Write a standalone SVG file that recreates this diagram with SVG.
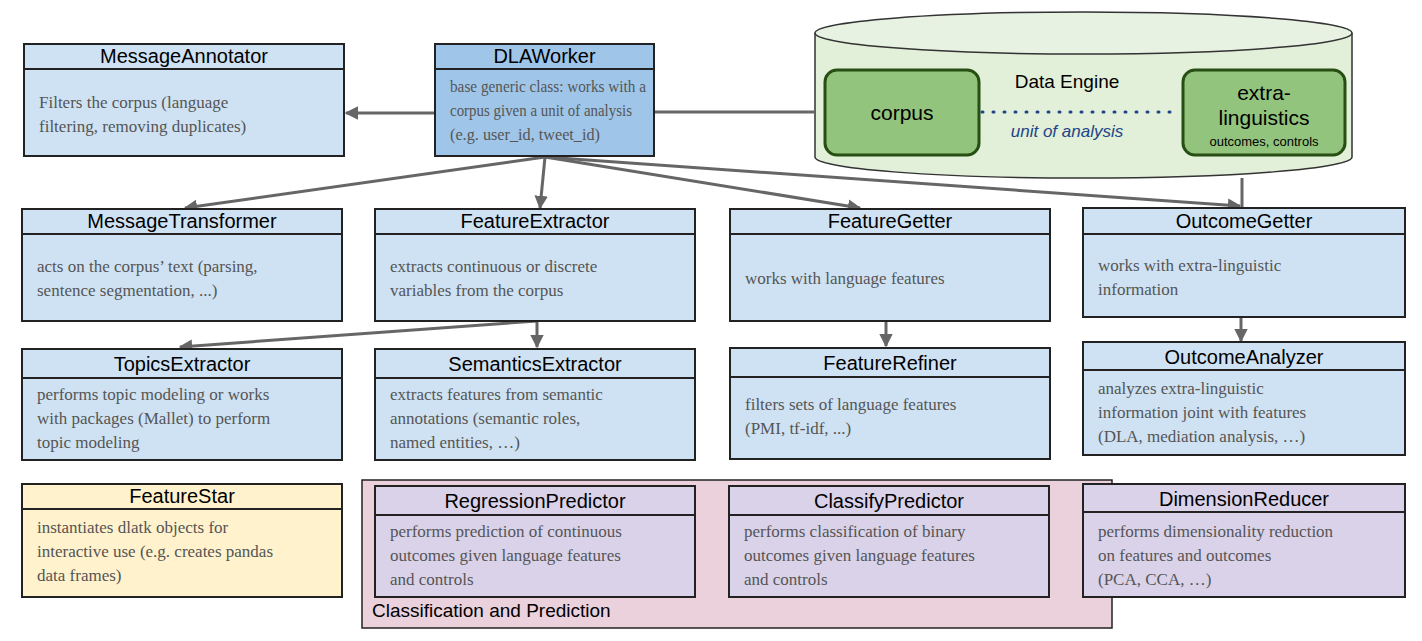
<svg xmlns="http://www.w3.org/2000/svg" width="1422" height="641" viewBox="0 0 1422 641">
<defs>
<marker id="ah" viewBox="0 0 10 10" refX="9" refY="5" markerWidth="4.5" markerHeight="4.5" orient="auto" markerUnits="strokeWidth"><path d="M0,0 L10,5 L0,10 z" fill="#666"/></marker>
<style>
.box{stroke:#222;stroke-width:2}
.blue{fill:#cfe2f3}.dblue{fill:#9fc5e8}.yel{fill:#fff2cc}.pur{fill:#d9d2e9}
.h{font-family:"Liberation Sans",Arial,sans-serif;font-size:20px;fill:#000;text-anchor:middle}
.b{font-family:"Liberation Serif","Times New Roman",serif;font-size:17px;fill:#555}
.c{stroke:#666;stroke-width:3;fill:none}
.g{font-family:"Liberation Sans",Arial,sans-serif;fill:#000;text-anchor:middle}
</style>
</defs>
<rect width="1422" height="641" fill="#fff"/>
<g id="classification-group">
<rect x="362" y="480" width="750" height="148" fill="#ead1dc" stroke="#222" stroke-width="1.5"/>
<text x="372" y="617" font-family="Liberation Sans,Arial,sans-serif" font-size="19">Classification and Prediction</text>
</g>
<g id="data-engine">
<path d="M815,33 L815,157 A268,21 0 0 0 1352,157 L1352,33" fill="#e2efd9" stroke="#333" stroke-width="1.5"/>
<ellipse cx="1083.5" cy="33" rx="268.5" ry="21" fill="#e8f2e2" stroke="#333" stroke-width="1.5"/>
<rect x="825" y="70" width="154" height="85" rx="12" fill="#93c47d" stroke="#274e13" stroke-width="3"/>
<rect x="1183" y="70" width="162" height="85" rx="12" fill="#93c47d" stroke="#274e13" stroke-width="3"/>
<text class="g" x="1067" y="88" font-size="19">Data Engine</text>
<text class="g" x="902" y="120" font-size="21">corpus</text>
<text class="g" x="1264" y="100" font-size="21">extra-</text>
<text class="g" x="1264" y="125" font-size="21">linguistics</text>
<text class="g" x="1264" y="146" font-size="13">outcomes, controls</text>
<line x1="982" y1="112" x2="1180" y2="112" stroke="#1c4587" stroke-width="3" stroke-dasharray="1,10" stroke-linecap="round"/>
<text class="g" x="1067" y="137" font-size="17" font-style="italic" style="fill:#1c4587">unit of analysis</text>
</g>
<g id="connectors">
<line class="c" x1="435" y1="113" x2="346" y2="113" marker-end="url(#ah)"/>
<line class="c" x1="654" y1="112" x2="815" y2="112"/>
<line class="c" x1="545" y1="157" x2="185" y2="208" marker-end="url(#ah)"/>
<line class="c" x1="545" y1="157" x2="540" y2="208" marker-end="url(#ah)"/>
<line class="c" x1="545" y1="157" x2="860" y2="208" marker-end="url(#ah)"/>
<line class="c" x1="545" y1="157" x2="1240" y2="206" marker-end="url(#ah)"/>
<line class="c" x1="1242" y1="178" x2="1242" y2="208"/>
<line class="c" x1="537" y1="321" x2="180" y2="347" marker-end="url(#ah)"/>
<line class="c" x1="537" y1="321" x2="537" y2="347" marker-end="url(#ah)"/>
<line class="c" x1="886" y1="321" x2="886" y2="346" marker-end="url(#ah)"/>
<line class="c" x1="1241" y1="317" x2="1241" y2="341" marker-end="url(#ah)"/>
</g>
<g id="MessageAnnotator"><rect class="box blue" x="24" y="44" width="320" height="112"/><line class="box" x1="24" y1="69" x2="344" y2="69"/><text class="h" x="184" y="63">MessageAnnotator</text><text class="b" x="39" y="108">Filters the corpus (language</text><text class="b" x="39" y="132">filtering, removing duplicates)</text></g>
<g id="DLAWorker"><rect class="box dblue" x="435" y="44" width="219" height="112"/><line class="box" x1="435" y1="69" x2="654" y2="69"/><text class="h" x="544.5" y="63">DLAWorker</text><text class="b" x="450" y="92" textLength="196" lengthAdjust="spacingAndGlyphs">base generic class: works with a</text><text class="b" x="450" y="116" textLength="182" lengthAdjust="spacingAndGlyphs">corpus given a unit of analysis</text><text class="b" x="450" y="140" textLength="150" lengthAdjust="spacingAndGlyphs">(e.g. user_id, tweet_id)</text></g>
<g id="MessageTransformer"><rect class="box blue" x="22" y="209" width="320" height="112"/><line class="box" x1="22" y1="234" x2="342" y2="234"/><text class="h" x="182" y="228">MessageTransformer</text><text class="b" x="37" y="272">acts on the corpus’ text (parsing,</text><text class="b" x="37" y="296">sentence segmentation, ...)</text></g>
<g id="FeatureExtractor"><rect class="box blue" x="375" y="209" width="320" height="112"/><line class="box" x1="375" y1="234" x2="695" y2="234"/><text class="h" x="535" y="228">FeatureExtractor</text><text class="b" x="390" y="272">extracts continuous or discrete</text><text class="b" x="390" y="296">variables from the corpus</text></g>
<g id="FeatureGetter"><rect class="box blue" x="730" y="209" width="320" height="112"/><line class="box" x1="730" y1="234" x2="1050" y2="234"/><text class="h" x="890" y="228">FeatureGetter</text><text class="b" x="745" y="284">works with language features</text></g>
<g id="OutcomeGetter"><rect class="box blue" x="1083" y="208" width="322" height="109"/><line class="box" x1="1083" y1="234" x2="1405" y2="234"/><text class="h" x="1244" y="228">OutcomeGetter</text><text class="b" x="1098" y="271">works with extra-linguistic</text><text class="b" x="1098" y="295">information</text></g>
<g id="TopicsExtractor"><rect class="box blue" x="22" y="349" width="320" height="111"/><line class="box" x1="22" y1="378" x2="342" y2="378"/><text class="h" x="182" y="371">TopicsExtractor</text><text class="b" x="37" y="400">performs topic modeling or works</text><text class="b" x="37" y="424">with packages (Mallet) to perform</text><text class="b" x="37" y="448">topic modeling</text></g>
<g id="SemanticsExtractor"><rect class="box blue" x="375" y="349" width="320" height="111"/><line class="box" x1="375" y1="378" x2="695" y2="378"/><text class="h" x="535" y="371">SemanticsExtractor</text><text class="b" x="390" y="400">extracts features from semantic</text><text class="b" x="390" y="424">annotations (semantic roles,</text><text class="b" x="390" y="448">named entities, …)</text></g>
<g id="FeatureRefiner"><rect class="box blue" x="730" y="348" width="320" height="111"/><line class="box" x1="730" y1="377" x2="1050" y2="377"/><text class="h" x="890" y="370">FeatureRefiner</text><text class="b" x="745" y="410">filters sets of language features</text><text class="b" x="745" y="434">(PMI, tf-idf, ...)</text></g>
<g id="OutcomeAnalyzer"><rect class="box blue" x="1083" y="342" width="322" height="113"/><line class="box" x1="1083" y1="370" x2="1405" y2="370"/><text class="h" x="1244" y="364">OutcomeAnalyzer</text><text class="b" x="1098" y="394">analyzes extra-linguistic</text><text class="b" x="1098" y="418">information joint with features</text><text class="b" x="1098" y="442">(DLA, mediation analysis, …)</text></g>
<g id="FeatureStar"><rect class="box yel" x="22" y="484" width="320" height="113"/><line class="box" x1="22" y1="509" x2="342" y2="509"/><text class="h" x="182" y="503">FeatureStar</text><text class="b" x="37" y="533">instantiates dlatk objects for</text><text class="b" x="37" y="557">interactive use (e.g. creates pandas</text><text class="b" x="37" y="581">data frames)</text></g>
<g id="RegressionPredictor"><rect class="box pur" x="375" y="486" width="320" height="111"/><line class="box" x1="375" y1="515" x2="695" y2="515"/><text class="h" x="535" y="508">RegressionPredictor</text><text class="b" x="390" y="537">performs prediction of continuous</text><text class="b" x="390" y="561">outcomes given language features</text><text class="b" x="390" y="585">and controls</text></g>
<g id="ClassifyPredictor"><rect class="box pur" x="729" y="486" width="320" height="111"/><line class="box" x1="729" y1="515" x2="1049" y2="515"/><text class="h" x="889" y="508">ClassifyPredictor</text><text class="b" x="744" y="537">performs classification of binary</text><text class="b" x="744" y="561">outcomes given language features</text><text class="b" x="744" y="585">and controls</text></g>
<g id="DimensionReducer"><rect class="box pur" x="1083" y="484" width="322" height="113"/><line class="box" x1="1083" y1="512" x2="1405" y2="512"/><text class="h" x="1244" y="506">DimensionReducer</text><text class="b" x="1098" y="537">performs dimensionality reduction</text><text class="b" x="1098" y="561">on features and outcomes</text><text class="b" x="1098" y="585">(PCA, CCA, …)</text></g>
</svg>
